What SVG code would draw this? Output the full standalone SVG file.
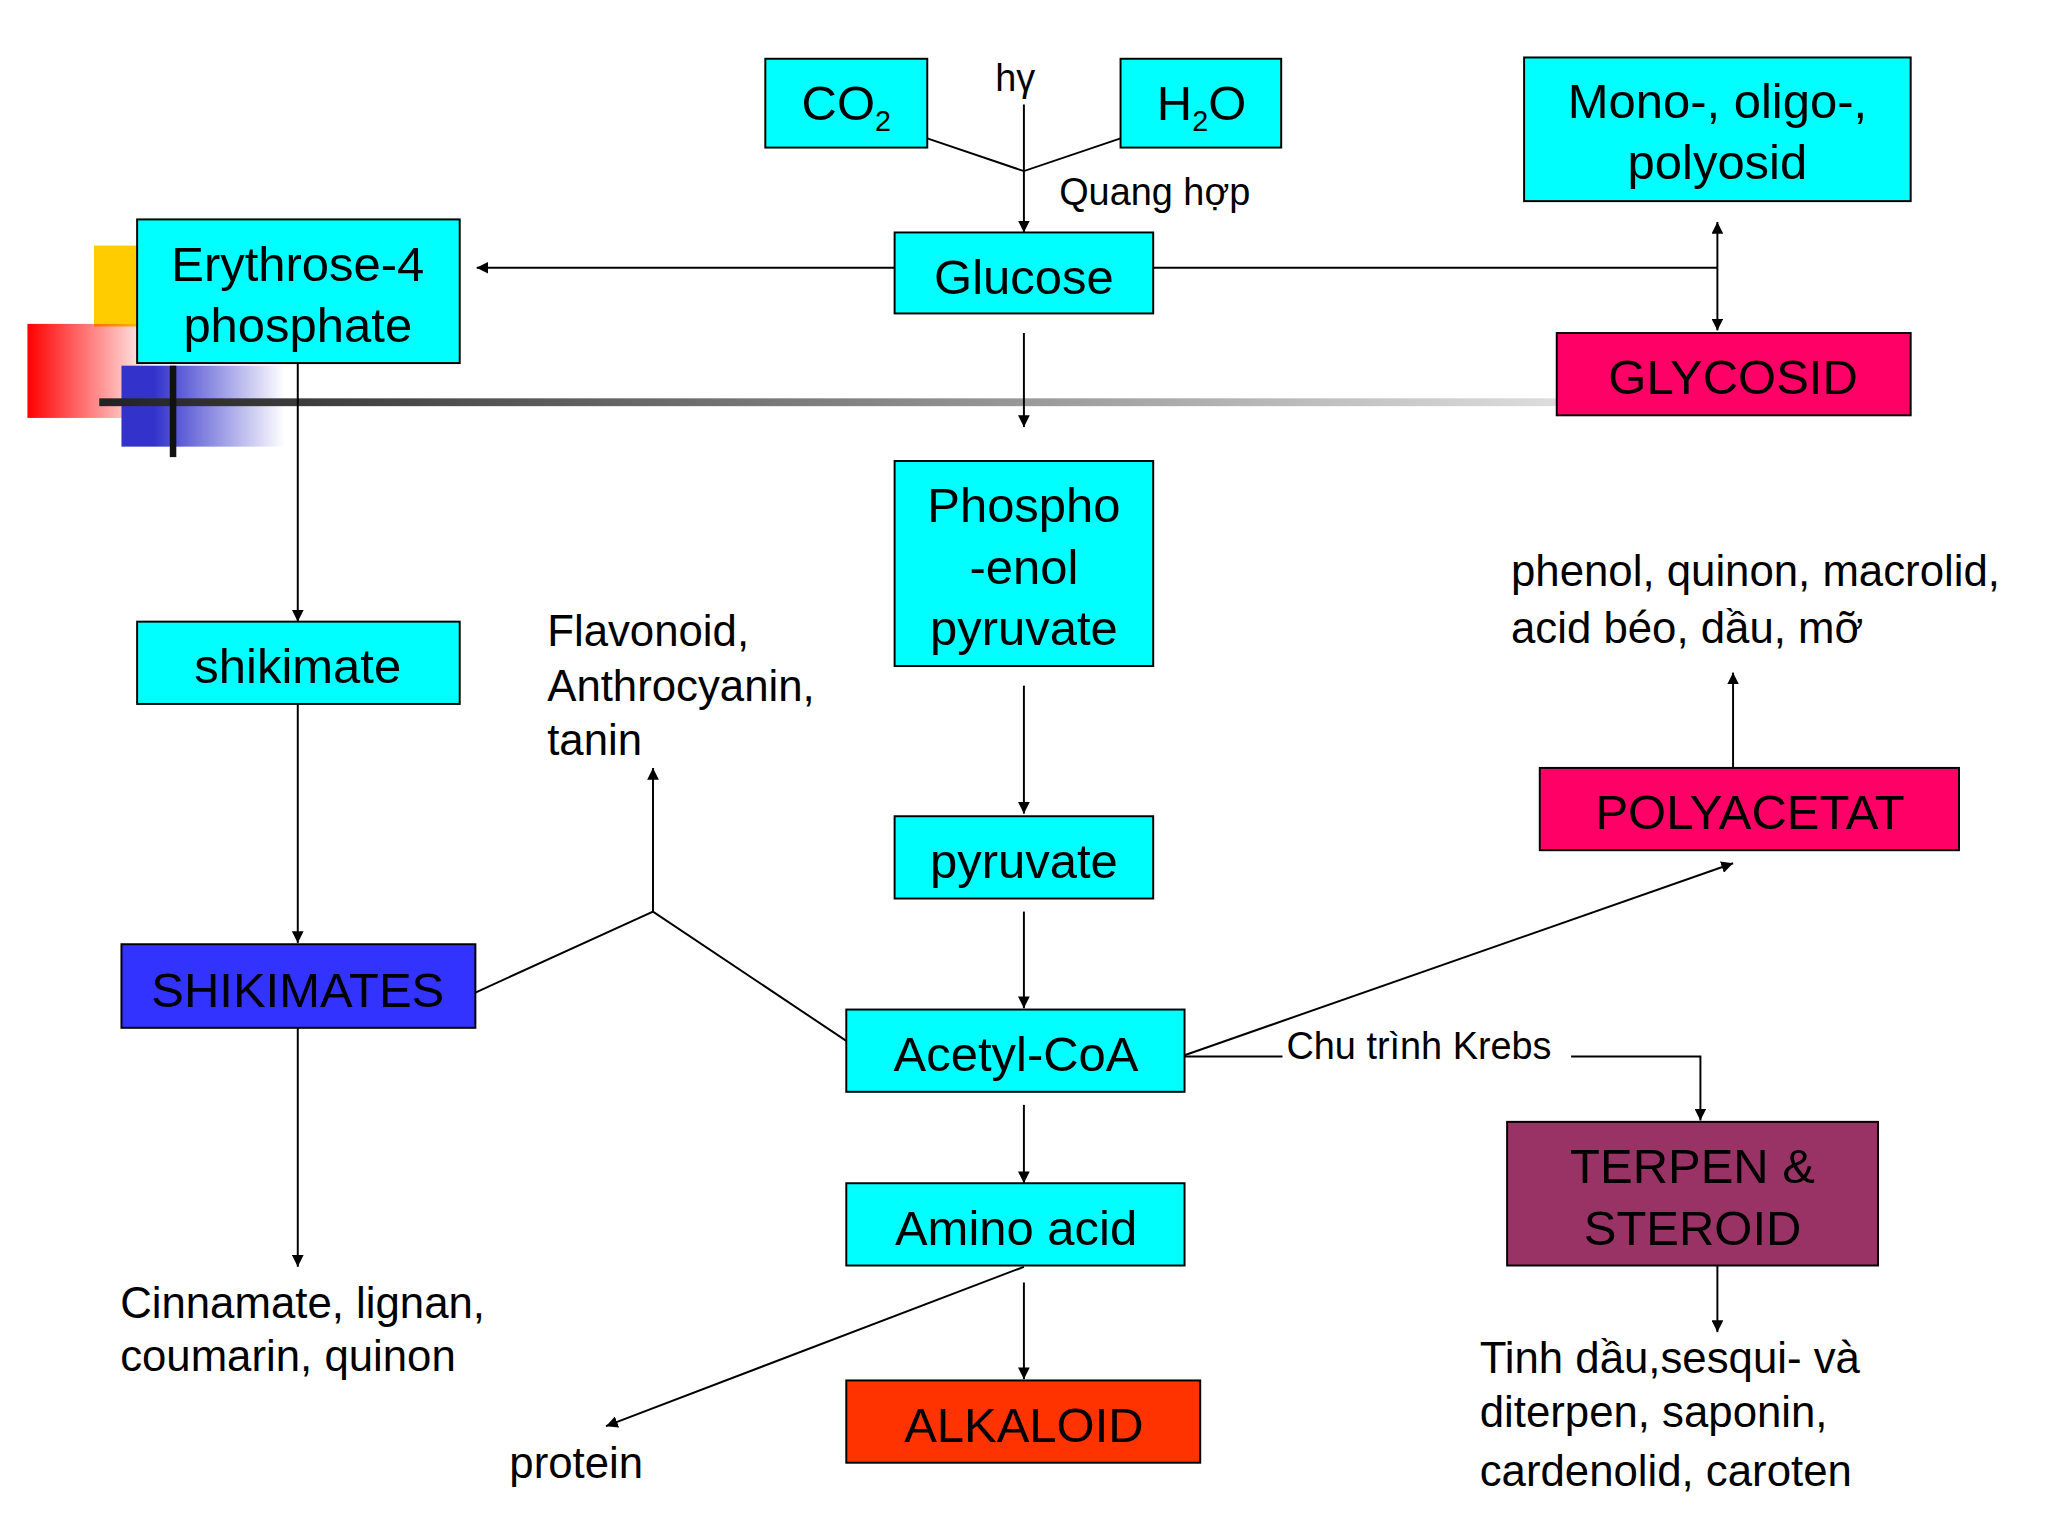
<svg xmlns="http://www.w3.org/2000/svg" width="2048" height="1536" viewBox="0 0 2048 1536">
<defs>
<style>
.b{stroke:#000;stroke-width:1.5}
.c{fill:#00ffff}
.t{font-family:"Liberation Sans",Arial,sans-serif;font-size:37.5px;fill:#000;text-anchor:middle}
.s{font-family:"Liberation Sans",Arial,sans-serif;font-size:33.5px;fill:#000}
.m{font-family:"Liberation Sans",Arial,sans-serif;font-size:29px;fill:#000}
.l{stroke:#000;stroke-width:1.5;fill:none}
.a{marker-end:url(#ar)}
</style>
<marker id="ar" viewBox="0 0 10 10" refX="10" refY="5" markerWidth="9" markerHeight="9" markerUnits="userSpaceOnUse" orient="auto-start-reverse"><path d="M0,0L10,5L0,10z" fill="#000"/></marker>
<linearGradient id="gr" x1="0" x2="1"><stop offset="0" stop-color="#ff0000"/><stop offset="1" stop-color="#ff0000" stop-opacity="0"/></linearGradient>
<linearGradient id="gb" x1="0" x2="1"><stop offset="0.2" stop-color="#3333cc"/><stop offset="1" stop-color="#3333cc" stop-opacity="0"/></linearGradient>
<linearGradient id="gl" x1="0" x2="1"><stop offset="0" stop-color="#222"/><stop offset="1" stop-color="#ddd"/></linearGradient>
</defs>
<rect width="2048" height="1536" fill="#fff"/>
<g transform="scale(1.306)">
<g id="decor">
<rect x="72" y="188" width="58" height="62" fill="#ffcc00"/>
<rect x="21" y="248" width="97" height="72" fill="url(#gr)"/>
<rect x="93" y="280" width="125" height="62" fill="url(#gb)"/>
<rect x="76" y="305" width="1116" height="6" fill="url(#gl)"/>
<rect x="130" y="280" width="5" height="70" fill="#111"/>
</g>
<g id="connectors">
<path class="l" d="M710,106L784,131L858,106"/>
<path class="l a" d="M784,80V178"/>
<path class="l a" d="M685,205H365"/>
<path class="l" d="M883,205H1315"/>
<path class="l a" d="M1315,205V170"/>
<path class="l a" d="M1315,205V253"/>
<path class="l a" d="M228,278V476"/>
<path class="l a" d="M784,255V327"/>
<path class="l a" d="M784,525V623"/>
<path class="l a" d="M784,698V772"/>
<path class="l a" d="M228,539V722"/>
<path class="l" d="M364,760L500,698L648,797"/>
<path class="l a" d="M500,698V588"/>
<path class="l a" d="M228,787V970"/>
<path class="l a" d="M784,846V906"/>
<path class="l a" d="M784,970L464,1092"/>
<path class="l a" d="M784,982V1056"/>
<path class="l a" d="M907,808L1327,661"/>
<path class="l" d="M907,809H982"/>
<path class="l a" d="M1203,809H1302V858"/>
<path class="l a" d="M1327,588V515"/>
<path class="l a" d="M1315,969V1020"/>
</g>
<g id="co2"><rect class="b c" x="586" y="45" width="124" height="68"/><text class="t" x="648" y="92">CO<tspan font-size="22" dy="8">2</tspan></text></g>
<g id="h2o"><rect class="b c" x="858" y="45" width="123" height="68"/><text class="t" x="920" y="92">H<tspan font-size="22" dy="8">2</tspan><tspan dy="-8">O</tspan></text></g>
<text class="m" x="762" y="70">hγ</text>
<text class="m" x="811" y="157">Quang hợp</text>
<g id="glucose"><rect class="b c" x="685" y="178" width="198" height="62"/><text class="t" x="784" y="225">Glucose</text></g>
<g id="mono"><rect class="b c" x="1167" y="44" width="296" height="110"/><text class="t" x="1315" y="90">Mono-, oligo-,</text><text class="t" x="1315" y="137">polyosid</text></g>
<g id="glycosid"><rect class="b" fill="#ff0066" x="1192" y="255" width="271" height="63"/><text class="t" x="1327" y="302">GLYCOSID</text></g>
<g id="erythrose"><rect class="b c" x="105" y="168" width="247" height="110"/><text class="t" x="228" y="215">Erythrose-4</text><text class="t" x="228" y="262">phosphate</text></g>
<g id="pep"><rect class="b c" x="685" y="353" width="198" height="157"/><text class="t" x="784" y="400">Phospho</text><text class="t" x="784" y="447">-enol</text><text class="t" x="784" y="494">pyruvate</text></g>
<g id="pyruvate"><rect class="b c" x="685" y="625" width="198" height="63"/><text class="t" x="784" y="672">pyruvate</text></g>
<g id="acetyl"><rect class="b c" x="648" y="773" width="259" height="63"/><text class="t" x="778" y="820">Acetyl-CoA</text></g>
<g id="shikimate"><rect class="b c" x="105" y="476" width="247" height="63"/><text class="t" x="228" y="523">shikimate</text></g>
<g id="shikimates"><rect class="b" fill="#3333ff" x="93" y="723" width="271" height="64"/><text class="t" x="228" y="771">SHIKIMATES</text></g>
<g id="amino"><rect class="b c" x="648" y="906" width="259" height="63"/><text class="t" x="778" y="953">Amino acid</text></g>
<g id="alkaloid"><rect class="b" fill="#ff3300" x="648" y="1057" width="271" height="63"/><text class="t" x="784" y="1104">ALKALOID</text></g>
<g id="polyacetat"><rect class="b" fill="#ff0066" x="1179" y="588" width="321" height="63"/><text class="t" x="1340" y="635">POLYACETAT</text></g>
<g id="terpen"><rect class="b" fill="#993366" x="1154" y="859" width="284" height="110"/><text class="t" x="1296" y="906">TERPEN &amp;</text><text class="t" x="1296" y="953">STEROID</text></g>
<g id="labels">
<text class="s" x="419" y="495">Flavonoid,</text><text class="s" x="419" y="537">Anthrocyanin,</text><text class="s" x="419" y="578">tanin</text>
<text class="s" x="92" y="1009">Cinnamate, lignan,</text><text class="s" x="92" y="1050">coumarin, quinon</text>
<text class="s" x="390" y="1132">protein</text>
<text class="m" x="985" y="811">Chu trình Krebs</text>
<text class="s" x="1157" y="449">phenol, quinon, macrolid,</text><text class="s" x="1157" y="492">acid béo, dầu, mỡ</text>
<text class="s" x="1133" y="1051">Tinh dầu,sesqui- và</text><text class="s" x="1133" y="1093">diterpen, saponin,</text><text class="s" x="1133" y="1138">cardenolid, caroten</text>
</g>
</g>
</svg>
